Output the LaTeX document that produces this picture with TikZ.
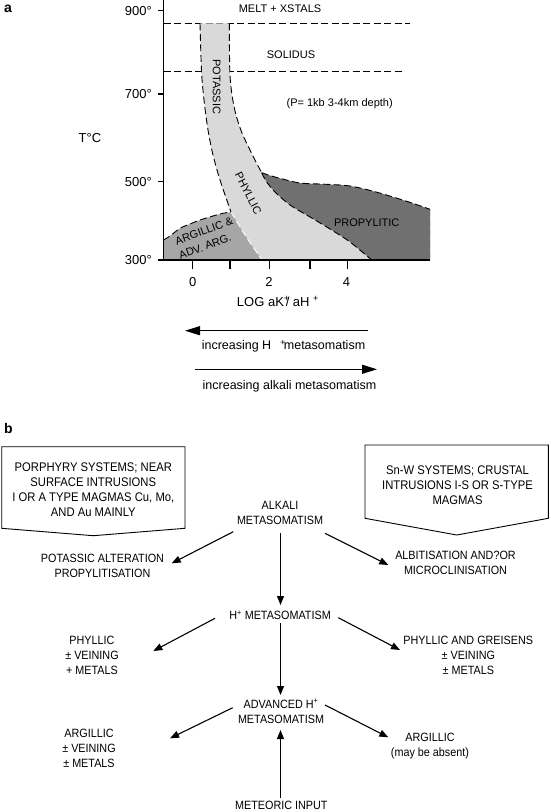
\documentclass[tikz,border=0pt]{standalone}
\usepackage{fontspec}
\setmainfont{Liberation Sans}
\newfontfamily\condf[FakeStretch=0.9]{Liberation Sans}
\usetikzlibrary{arrows.meta}
\definecolor{bandc}{gray}{0.85}
\definecolor{argc}{gray}{0.65}
\definecolor{propc}{gray}{0.44}
\tikzset{
  plt/.style={font=\fontsize{11}{13}\selectfont, inner sep=0pt},
  axl/.style={font=\fontsize{13}{15}\selectfont, inner sep=0pt},
  arl/.style={font=\fontsize{12.5}{15}\selectfont, inner sep=0pt},
  flow/.style={font=\condf\fontsize{12}{15}\selectfont, align=center, inner sep=0pt},
  boxt/.style={font=\condf\fontsize{12.5}{15}\selectfont, align=center, inner sep=0pt},
  arr/.style={-{Triangle[length=9pt,width=7pt]}, line width=1.1pt},
  bigarr/.style={-{Triangle[length=15pt,width=9pt]}, line width=1.3pt},
  bnd/.style={dash pattern=on 7pt off 3.5pt, line width=0.9pt},
  tag/.style={font=\bfseries\fontsize{14}{16}\selectfont, inner sep=0pt},
  srcbox/.style={line width=0.9pt}
}
\begin{document}
\begin{tikzpicture}[x=1pt,y=-1pt]
\useasboundingbox (0,0) rectangle (550,812);
% ---------------- part a ----------------
\node[tag] (ta) at (8,9) {a};
% horizontal dashed lines
\draw[bnd] (163.5,23.3) -- (410,23.3);
\draw[bnd] (163.5,71) -- (403,71);
% fills
\fill[bandc] plot[smooth] coordinates {(200,23.3) (201.5,71) (204,100) (208,130) (213,155) (220,180) (231,212) (245,235) (262,260)}
  -- plot[smooth] coordinates {(371.7,260) (350,242) (330,229) (310,217) (290,205) (275,192) (266,181) (261.7,172.7)}
  -- plot[smooth] coordinates {(261.7,172.7) (256,162) (250,150) (242,133) (236,115) (232,95) (229.8,71) (229.3,23.3)} -- cycle;
\fill[propc] plot[smooth] coordinates {(261.7,172.7) (270,175.5) (280,178.3) (300,183) (326.7,184.3) (350,186) (375,191.7) (408,201.7) (430,209.3)}
  -- (430,260)
  -- plot[smooth] coordinates {(371.7,260) (350,242) (330,229) (310,217) (290,205) (275,192) (266,181) (261.7,172.7)} -- cycle;
\fill[argc] plot[smooth] coordinates {(163.5,240) (170,236) (180,228.3) (190,224) (200,220) (220,214) (231,212)}
  -- plot[smooth] coordinates {(231,212) (245,235) (262,260)} -- (163.5,260) -- cycle;
% boundaries
\draw[bnd] plot[smooth] coordinates {(200,23.3) (201.5,71) (204,100) (208,130) (213,155) (220,180) (231,212)};
\draw[bnd, white] plot[smooth] coordinates {(231,212) (245,235) (262,260)};
\draw[bnd] plot[smooth] coordinates {(229.3,23.3) (229.8,71) (232,95) (236,115) (242,133) (250,150) (256,162) (261.7,172.7)};
\draw[bnd] plot[smooth] coordinates {(261.7,172.7) (266,181) (275,192) (290,205) (310,217) (330,229) (350,242) (371.7,260)};
\draw[bnd] plot[smooth] coordinates {(261.7,172.7) (270,175.5) (280,178.3) (300,183) (326.7,184.3) (350,186) (375,191.7) (408,201.7) (430,209.3)};
\draw[bnd] plot[smooth] coordinates {(163.5,240) (170,236) (180,228.3) (190,224) (200,220) (220,214) (231,212)};
\draw[bnd, gray!30] (430,209.3) -- (430,260);
% axes
\draw[line width=1.4pt] (163.5,0) -- (163.5,260) -- (430,260);
\foreach \yy in {10.7,94,181.7,260} \draw[line width=1.2pt] (158,\yy) -- (163.5,\yy);
\foreach \xx in {192.5,230,269.5,310,347.5} \draw[line width=1.2pt] (\xx,260) -- (\xx,269);
\node[axl, anchor=east] (y900) at (152,10.7) {900°};
\node[axl, anchor=east] (y700) at (152,94) {700°};
\node[axl, anchor=east] (y500) at (152,181.7) {500°};
\node[axl, anchor=east] (y300) at (152,260) {300°};
\node[axl] (tc) at (90,138) {T°C};
\node[axl] (x0) at (192.7,282) {0};
\node[axl] (x2) at (269,282) {2};
\node[axl] (x4) at (346.5,282) {4};
\node[axl, anchor=base] (logl) at (278,306) {LOG aK\textsuperscript{+}\kern-4pt/ aH \textsuperscript{+}};
% region labels
\node[plt] (melt) at (280,9) {MELT + XSTALS};
\node[plt] (sol) at (291,55) {SOLIDUS};
\node[plt] (pres) at (339.7,103.3) {(P= 1kb 3-4km depth)};
\node[plt, rotate=-90] (potl) at (216.7,86.7) {POTASSIC};
\node[plt, rotate=-63] (phyl) at (248.3,193.3) {PHYLLIC};
\node[plt, rotate=20] (argl1) at (204,231.2) {ARGILLIC \&};
\node[plt, rotate=20] (argl2) at (205,246.5) {ADV. ARG.};
\node[plt] (propl) at (366.7,222.7) {PROPYLITIC};
% bottom arrows of part a
\coordinate (hR) at (368,330.7);
\coordinate (hL) at (185,330.7);
\coordinate (kL) at (195,369.3);
\coordinate (kR) at (377,369.3);
\draw[bigarr] (hR) -- (hL);
\draw[bigarr] (kL) -- (kR);
\node[arl, anchor=base] (hlab) at (283.5,349.5) {increasing H\hspace{9pt}\textsuperscript{+}\kern-2pt metasomatism};
\node[arl, anchor=base] (klab) at (289.5,389.5) {increasing alkali metasomatism};
% ---------------- part b ----------------
\node[tag] (tb) at (8.3,428) {b};
\draw[srcbox] (1.7,446.7) -- (185,446.7) -- (185,528.3) -- (93.3,535.7) -- (1.7,528.3) -- cycle;
\node[boxt] (lbox) at (93.3,489.2) {PORPHYRY SYSTEMS; NEAR\\SURFACE INTRUSIONS\\I OR A TYPE MAGMAS Cu, Mo,\\AND Au MAINLY};
\draw[srcbox] (365,445) -- (548.4,445) -- (548.4,518.3) -- (456.7,535) -- (365,518.3) -- cycle;
\node[boxt] (rbox) at (457.5,485) {Sn-W SYSTEMS; CRUSTAL\\INTRUSIONS I-S OR S-TYPE\\MAGMAS};
\node[flow] (alk) at (280,512.8) {ALKALI\\METASOMATISM};
\node[flow] (pot) at (102.5,565.8) {POTASSIC ALTERATION\\PROPYLITISATION};
\node[flow] (alb) at (455.5,562.5) {ALBITISATION AND?OR\\MICROCLINISATION};
\node[flow] (hm) at (280,615) {H\textsuperscript{+} METASOMATISM};
\node[flow] (phy) at (92,655.2) {PHYLLIC\\± VEINING\\+ METALS};
\node[flow] (phg) at (468.3,655.2) {PHYLLIC AND GREISENS\\± VEINING\\± METALS};
\node[flow] (adv) at (281,711.3) {ADVANCED H\textsuperscript{+}\\METASOMATISM};
\node[flow] (arg) at (89,747.9) {ARGILLIC\\± VEINING\\± METALS};
\node[flow] (arg2) at (430,746.5) {ARGILLIC\\(may be absent)};
\node[flow] (met) at (281.3,805) {METEORIC INPUT};
% arrow end points
\coordinate (alk-l) at (233.3,531.7);
\coordinate (pot-e) at (171.7,563.3);
\coordinate (alk-d) at (280.5,533.3);
\coordinate (hm-n) at (280.5,605);
\coordinate (alk-r) at (325,533.3);
\coordinate (alb-w) at (388.3,565);
\coordinate (hm-l) at (215,618.3);
\coordinate (phy-e) at (153.3,651);
\coordinate (hm-r) at (338.3,617.7);
\coordinate (phg-w) at (400,650);
\coordinate (hm-d) at (280.5,623);
\coordinate (adv-n) at (280.5,695);
\coordinate (adv-l) at (232.7,707.7);
\coordinate (arg-e) at (170,738.3);
\coordinate (adv-r) at (325,705);
\coordinate (arg2-w) at (388.3,737.3);
\coordinate (met-n) at (280.5,798.3);
\coordinate (adv-s) at (280.5,730);
\draw[arr] (alk-l) -- (pot-e);
\draw[arr] (alk-d) -- (hm-n);
\draw[arr] (alk-r) -- (alb-w);
\draw[arr] (hm-l) -- (phy-e);
\draw[arr] (hm-r) -- (phg-w);
\draw[arr] (hm-d) -- (adv-n);
\draw[arr] (adv-l) -- (arg-e);
\draw[arr] (adv-r) -- (arg2-w);
\draw[arr] (met-n) -- (adv-s);
\end{tikzpicture}
\end{document}
